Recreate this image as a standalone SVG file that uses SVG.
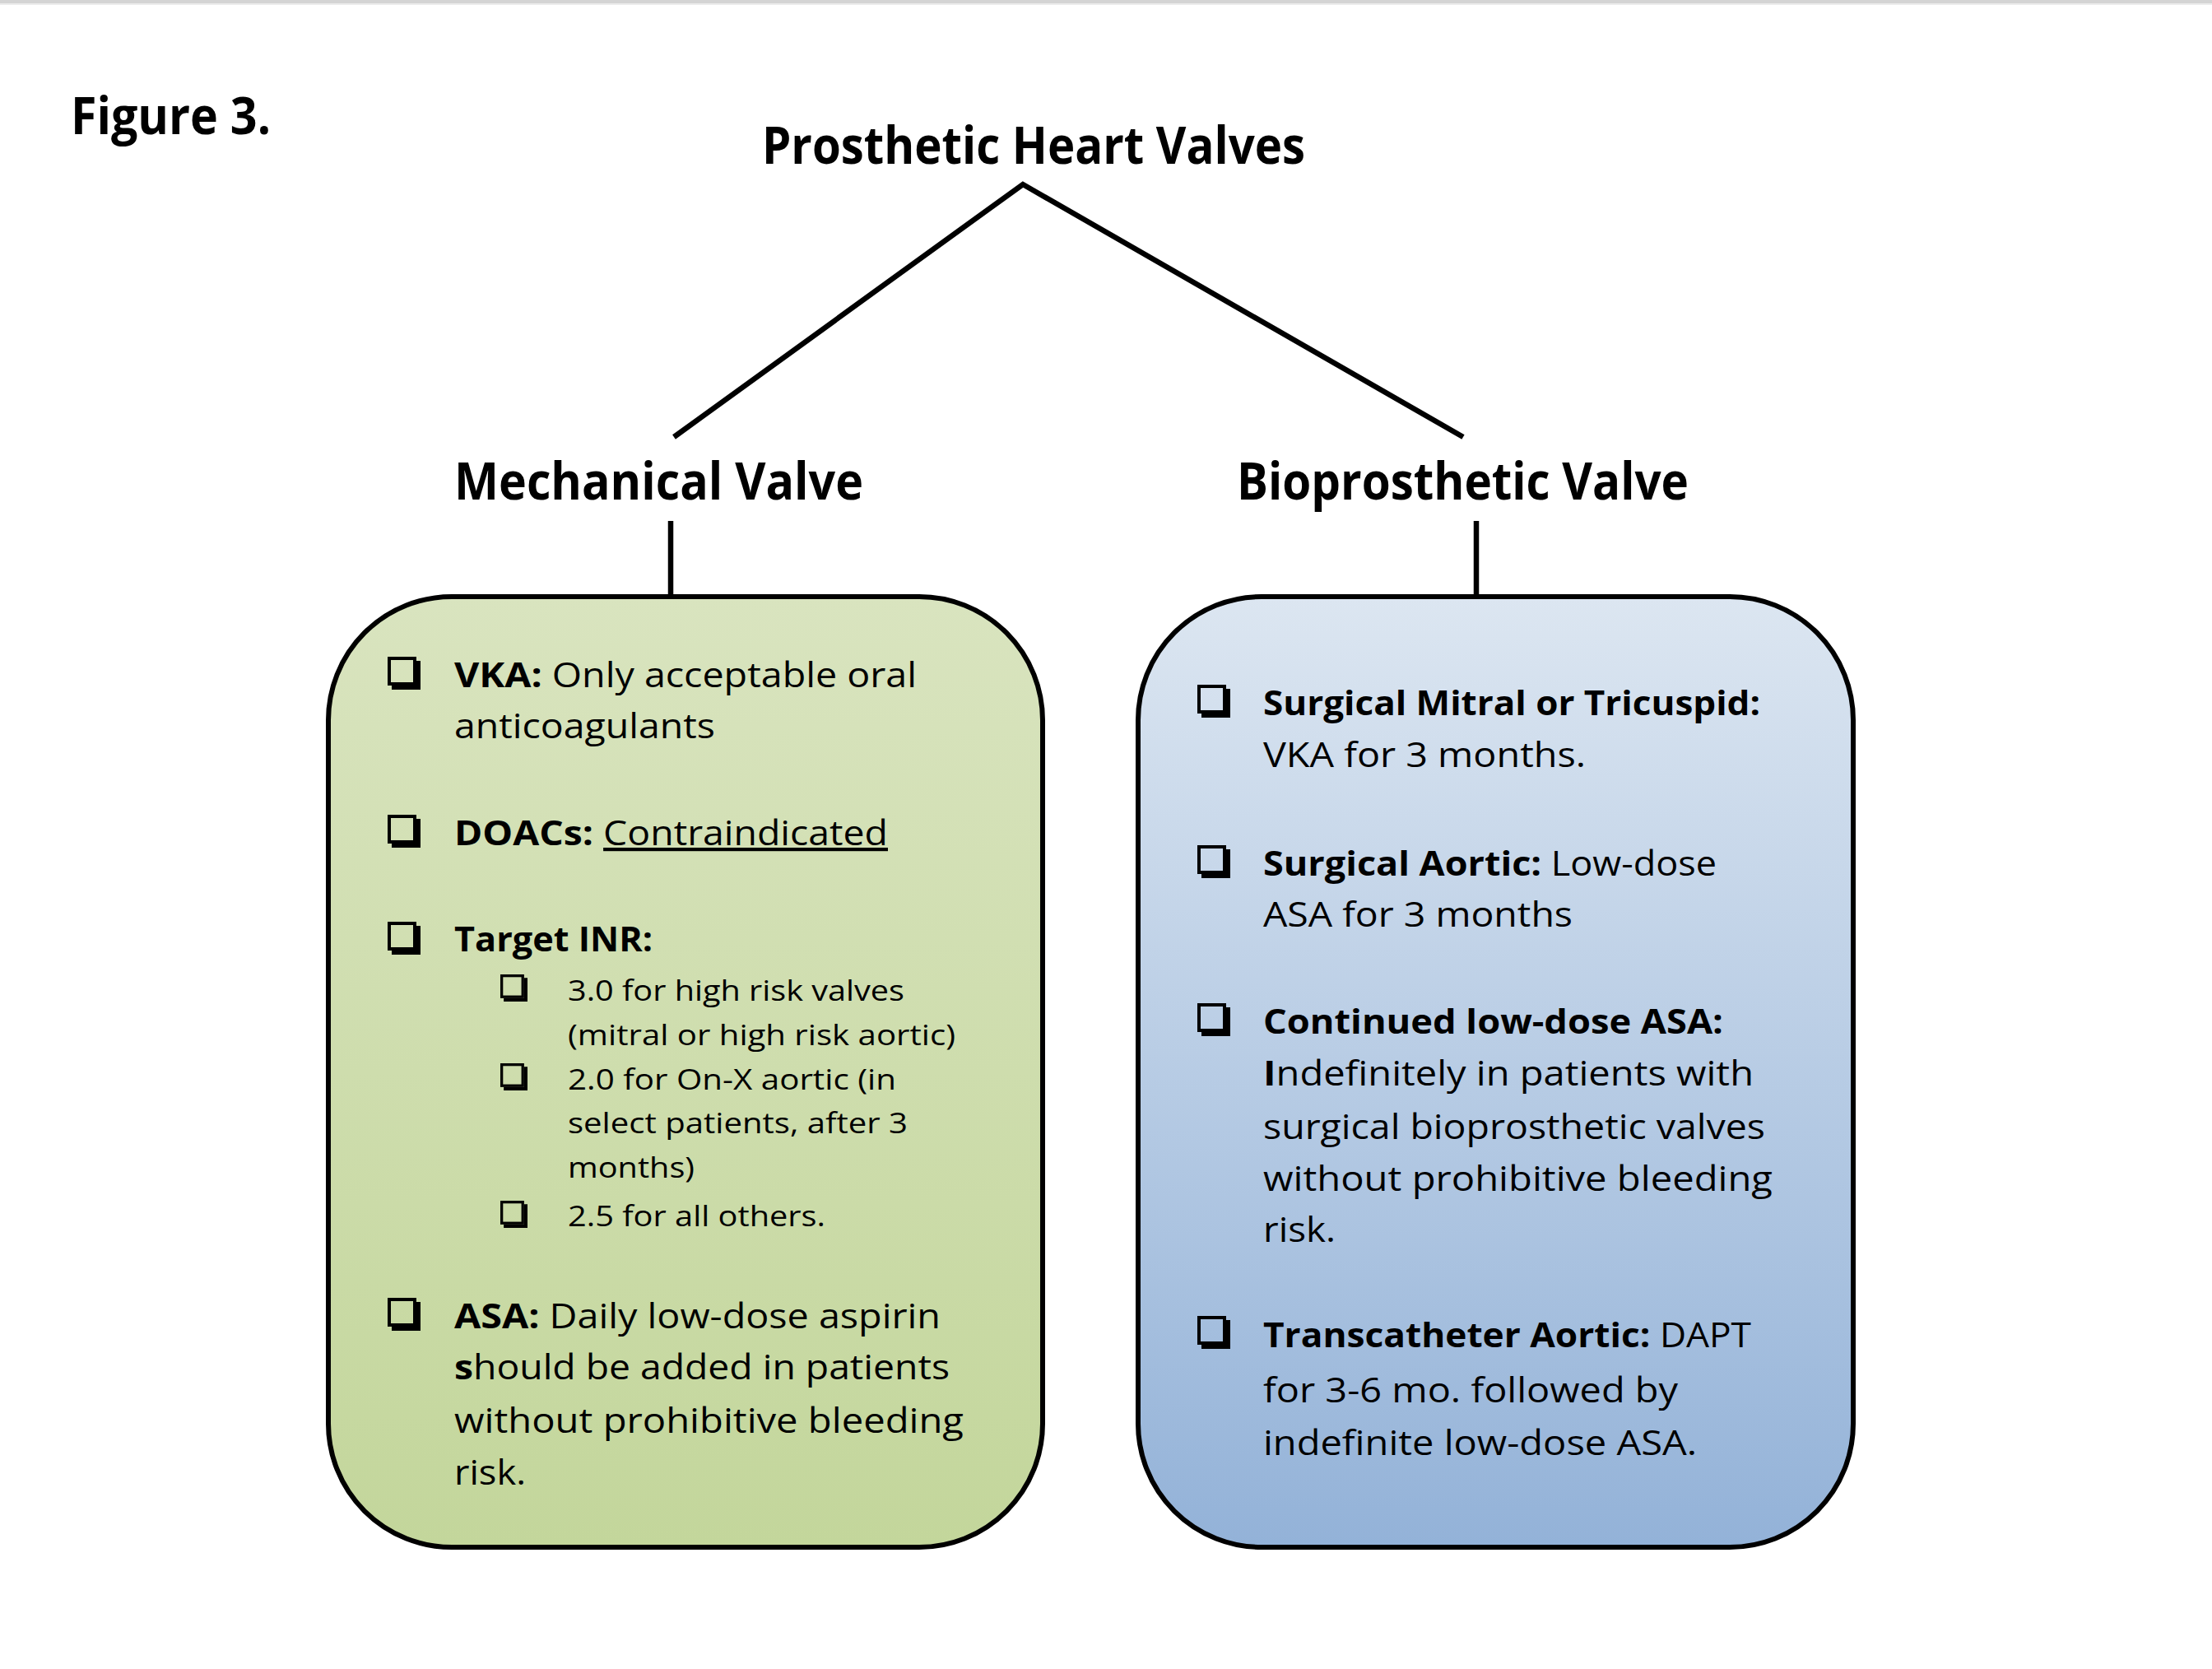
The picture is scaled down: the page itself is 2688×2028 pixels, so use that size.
<svg xmlns="http://www.w3.org/2000/svg" xmlns:xlink="http://www.w3.org/1999/xlink" width="2688" height="2028" viewBox="0 0 2688 2028">
<style>
  text { font-family: "Open Sans", "Noto Sans", "Liberation Sans", sans-serif; fill: #000; }
  .hd { font-size: 63px; font-weight: bold; }
  .tx { font-size: 42px; }
  .sub { font-size: 35px; }
  .b { font-weight: bold; }
  .conn { stroke: #000; stroke-width: 6.5; fill: none; stroke-linecap: butt; stroke-linejoin: miter; }
  .box { stroke: #000; stroke-width: 6; }
</style>
<defs>
  <linearGradient id="gGreen" x1="0" y1="0" x2="0" y2="1">
    <stop offset="0" stop-color="#d9e4bf"/>
    <stop offset="1" stop-color="#c3d69b"/>
  </linearGradient>
  <linearGradient id="gBlue" x1="0" y1="0" x2="0" y2="1">
    <stop offset="0" stop-color="#dce6f1"/>
    <stop offset="1" stop-color="#93b2d8"/>
  </linearGradient>
  <symbol id="cb" viewBox="0 0 40 40">
    <rect x="2" y="2" width="31" height="31" fill="none" stroke="#000" stroke-width="4"/>
    <path d="M35 5 H40 V40 H5 V35 H35 Z" fill="#000"/>
  </symbol>
</defs>
<rect x="0" y="0" width="2688" height="2028" fill="#fff"/>
<rect x="0" y="0" width="2688" height="4" fill="#d4d4d4"/>
<rect x="0" y="4" width="2688" height="2" fill="#ececec"/>

<g id="connectors">
  <polyline class="conn" points="819,531 1243,224 1778,531"/>
  <line class="conn" x1="815" y1="633" x2="815" y2="726"/>
  <line class="conn" x1="1794" y1="633" x2="1794" y2="726"/>
</g>

<g id="figure-label">
  <text class="hd" x="86" y="163" textLength="243" lengthAdjust="spacingAndGlyphs">Figure 3.</text>
</g>

<g id="node-root">
  <text class="hd" x="926" y="199" textLength="660" lengthAdjust="spacingAndGlyphs">Prosthetic Heart Valves</text>
</g>

<g id="node-mechanical">
  <text class="hd" x="552" y="607" textLength="497" lengthAdjust="spacingAndGlyphs">Mechanical Valve</text>
</g>

<g id="node-bioprosthetic">
  <text class="hd" x="1503" y="607" textLength="549" lengthAdjust="spacingAndGlyphs">Bioprosthetic Valve</text>
</g>

<g id="node-mechanical-box">
  <rect class="box" x="399" y="725" width="868" height="1155" rx="150" ry="150" fill="url(#gGreen)"/>
  <use href="#cb" x="471" y="798" width="40" height="40"/>
  <text class="tx" x="552" y="835" textLength="562" lengthAdjust="spacingAndGlyphs"><tspan class="b">VKA:</tspan> Only acceptable oral</text>
  <text class="tx" x="552" y="897" textLength="317" lengthAdjust="spacingAndGlyphs">anticoagulants</text>

  <use href="#cb" x="471" y="990" width="40" height="40"/>
  <text class="tx" x="552" y="1027" textLength="527" lengthAdjust="spacingAndGlyphs"><tspan class="b">DOACs:</tspan> <tspan text-decoration="underline">Contraindicated</tspan></text>

  <use href="#cb" x="471" y="1120" width="40" height="40"/>
  <text class="tx b" x="552" y="1156" textLength="241" lengthAdjust="spacingAndGlyphs">Target INR:</text>

  <use href="#cb" x="608" y="1184" width="33" height="33"/>
  <text class="sub" x="690" y="1216" textLength="409" lengthAdjust="spacingAndGlyphs">3.0 for high risk valves</text>
  <text class="sub" x="690" y="1270" textLength="471" lengthAdjust="spacingAndGlyphs">(mitral or high risk aortic)</text>
  <use href="#cb" x="608" y="1292" width="33" height="33"/>
  <text class="sub" x="690" y="1324" textLength="399" lengthAdjust="spacingAndGlyphs">2.0 for On-X aortic (in</text>
  <text class="sub" x="690" y="1377" textLength="413" lengthAdjust="spacingAndGlyphs">select patients, after 3</text>
  <text class="sub" x="690" y="1431" textLength="154" lengthAdjust="spacingAndGlyphs">months)</text>
  <use href="#cb" x="608" y="1459" width="33" height="33"/>
  <text class="sub" x="690" y="1490" textLength="313" lengthAdjust="spacingAndGlyphs">2.5 for all others.</text>

  <use href="#cb" x="471" y="1577" width="40" height="40"/>
  <text class="tx" x="552" y="1614" textLength="591" lengthAdjust="spacingAndGlyphs"><tspan class="b">ASA:</tspan> Daily low-dose aspirin</text>
  <text class="tx" x="552" y="1676" textLength="602" lengthAdjust="spacingAndGlyphs"><tspan class="b">s</tspan>hould be added in patients</text>
  <text class="tx" x="552" y="1741" textLength="619" lengthAdjust="spacingAndGlyphs">without prohibitive bleeding</text>
  <text class="tx" x="552" y="1804" textLength="87" lengthAdjust="spacingAndGlyphs">risk.</text>
</g>

<g id="node-bioprosthetic-box">
  <rect class="box" x="1383" y="725" width="869" height="1155" rx="150" ry="150" fill="url(#gBlue)"/>
  <use href="#cb" x="1455" y="832" width="40" height="40"/>
  <text class="tx b" x="1535" y="869" textLength="604" lengthAdjust="spacingAndGlyphs">Surgical Mitral or Tricuspid:</text>
  <text class="tx" x="1535" y="932" textLength="392" lengthAdjust="spacingAndGlyphs">VKA for 3 months.</text>

  <use href="#cb" x="1455" y="1027" width="40" height="40"/>
  <text class="tx" x="1535" y="1064" textLength="551" lengthAdjust="spacingAndGlyphs"><tspan class="b">Surgical Aortic:</tspan> Low-dose</text>
  <text class="tx" x="1535" y="1126" textLength="376" lengthAdjust="spacingAndGlyphs">ASA for 3 months</text>

  <use href="#cb" x="1455" y="1219" width="40" height="40"/>
  <text class="tx b" x="1535" y="1256" textLength="559" lengthAdjust="spacingAndGlyphs">Continued low-dose ASA:</text>
  <text class="tx" x="1535" y="1319" textLength="596" lengthAdjust="spacingAndGlyphs"><tspan class="b">I</tspan>ndefinitely in patients with</text>
  <text class="tx" x="1535" y="1384" textLength="610" lengthAdjust="spacingAndGlyphs">surgical bioprosthetic valves</text>
  <text class="tx" x="1535" y="1447" textLength="619" lengthAdjust="spacingAndGlyphs">without prohibitive bleeding</text>
  <text class="tx" x="1535" y="1509" textLength="88" lengthAdjust="spacingAndGlyphs">risk.</text>

  <use href="#cb" x="1455" y="1599" width="40" height="40"/>
  <text class="tx" x="1535" y="1637" textLength="593" lengthAdjust="spacingAndGlyphs"><tspan class="b">Transcatheter Aortic:</tspan> DAPT</text>
  <text class="tx" x="1535" y="1704" textLength="504" lengthAdjust="spacingAndGlyphs">for 3-6 mo. followed by</text>
  <text class="tx" x="1535" y="1768" textLength="527" lengthAdjust="spacingAndGlyphs">indefinite low-dose ASA.</text>
</g>
</svg>
